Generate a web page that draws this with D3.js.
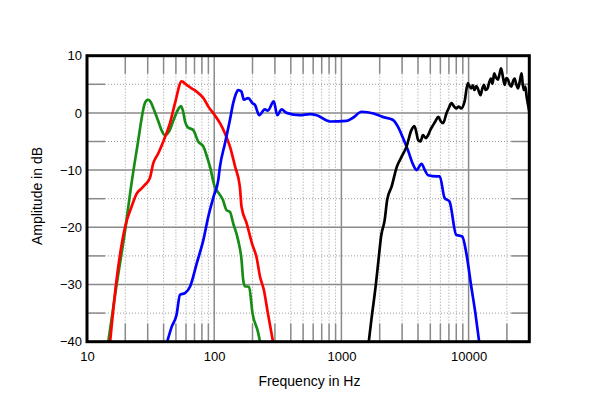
<!DOCTYPE html>
<html><head><meta charset="utf-8">
<script src="https://cdn.jsdelivr.net/npm/d3@7"></script>
<style>body{margin:0;background:#fff}svg{display:block}</style>
</head><body><svg id="c" width="600" height="407"></svg>
<script>
const xTicks = [10, 100, 1000, 10000];
const yTicks = [10, 0, -10, -20, -30, -40];
const xTitle = "Frequency in Hz";
const yTitle = "Amplitude in dB";

const greenF = [14.7,17.1,20.1,22.0,25,28.5,29.4,30.3,31.5,33,36,38.5,41,44,48,52,54.9,57,59,61.9,68.4,74.8,82.2,87.0,92.6,101,104.5,117,125,133,141,154,164,169,174,188,200,222,229];
const greenDB = [-40,-30,-20,-13.5,-5.5,1.7,2.2,2.3,2.0,1.0,-1.2,-3.0,-3.9,-3.3,-1.2,0.6,1.2,0.2,-1.5,-2.5,-3.0,-5.0,-5.9,-7.4,-9.4,-12.9,-13.5,-15.2,-17.0,-17.3,-19.3,-22.2,-25.7,-29.2,-30.3,-30.4,-35,-38.5,-40];

const redF = [15.2,16.9,19.9,22.4,24.6,26.9,28.5,31.2,33.2,36.3,39.8,44.9,49.2,55.5,60.7,66.5,72.9,82.2,89.9,101,111,121.6,133,146,159,164,180,198,216,229,246,264,290];
const redDB = [-40,-30,-20,-16.4,-14.1,-13.2,-12.6,-11.4,-8.8,-7.1,-5.0,-1.8,1.7,5.5,4.9,4.3,3.7,2.6,1.1,-0.4,-1.8,-3.6,-5.9,-9.4,-12.9,-16.4,-19.3,-22.8,-25.4,-28.6,-31.0,-35,-40];

const blueF = [42.7,46.3,50.6,53.8,58.9,64.5,72.9,82.2,89.9,98.6,107.7,111,121.6,133,141,150,154,160,164,171,185,200,209,226,250,264,294,313,338,371,472,566,640,811,1100,1240,1440,1790,2110,2530,2780,3050,3330,3670,3900,4260,4530,4800,5620,5930,6480,7080,7980,8910,9590,10500,11300,12100];
const blueDB = [-40,-37.4,-35.3,-31.8,-31.5,-30.4,-26.3,-22.2,-18.1,-14.7,-11.7,-9.4,-5.3,-1.2,1.7,3.6,4.0,3.9,3.7,2.3,2.6,1.7,1.4,-0.4,0.6,0.4,2.0,-0.4,0.6,0.0,-0.4,-0.2,-0.4,-1.5,-1.4,-0.8,0.2,-0.1,-0.7,-1.2,-2.4,-4.4,-6.5,-9.1,-10.0,-8.9,-10.0,-10.9,-11.1,-11.1,-14.9,-15.5,-21.3,-21.6,-24.5,-30.4,-35,-40];

const blackF = [1641,1720,1870,1970,2050,2190,2290,2480,2730,2970,3250,3550,3750,3900,4000,4180,4380,4600,4800,5050,5270,5500,5780,6050,6300,6690,7000,7330,7650,7980,8350,8750,9300,9860,10200,10500,10800,11100,11500,11800,12100,12400,12800,13200,13600,14100,14500,15000,15400,15900,16400,17000,17500,18000,18600,19200,19800,20400,21000,21700,22300,23000,23700,24500,25300,26100,26600,27200,27900,28600,29500,30000];
const blackDB = [-40,-36.2,-29.8,-25.1,-21.6,-18.7,-15.2,-12.9,-9.4,-7.7,-5.9,-3.0,-2.3,-3.6,-4.7,-5.0,-3.9,-4.4,-3.9,-2.8,-2.1,-1.4,-0.7,-1.5,-1.8,-0.1,0.9,1.7,1.2,0.8,1.1,0.8,2.0,5.2,4.6,4.3,4.8,4.0,4.7,4.3,3.6,3.1,4.2,4.9,4.0,4.3,5.3,6.0,5.1,6.9,6.2,5.8,6.8,7.8,6.3,4.9,6.1,5.8,5.0,4.6,5.5,6.0,5.0,4.3,5.6,6.9,5.1,4.0,4.6,2.8,1.1,0.2];

const seriesNames = ["green","red","blue","black"];
const seriesColors = ["#178c17","#ff0000","#0000ff","#000000"];
const seriesF = [greenF, redF, blueF, blackF];
const seriesDB = [greenDB, redDB, blueDB, blackDB];

const W = 600, H = 407;
const m = {left: 87, top: 55.7, right: 70.7, bottom: 65.3};
const iw = W - m.left - m.right, ih = H - m.top - m.bottom;
const svg = d3.select("#c");
const g = svg.append("g").attr("transform", `translate(${m.left},${m.top})`);
const x = d3.scaleLog().domain([10, 30000]).range([0, iw]);
const y = d3.scaleLinear().domain([-40, 10]).range([ih, 0]);

const minorX = [];
for (let d = 10; d < 30000; d *= 10) for (let k = 2; k <= 9; k++) { const v = d * k; if (v < 30000) minorX.push(v); }
const minorY = [5, -5, -15, -25, -35];
const majorX = [100, 1000, 10000];
const majorY = [0, -10, -20, -30];
const tickLen = 18;
const grey = "#8a8a8a";

const grid = g.append("g");
grid.selectAll(".mxd").data(minorX).enter().append("line")
  .attr("x1", d => x(d)).attr("x2", d => x(d)).attr("y1", 0).attr("y2", ih)
  .attr("stroke", "#9a9a9a").attr("stroke-width", 1).attr("stroke-dasharray", "1,2");
grid.selectAll(".myd").data(minorY).enter().append("line")
  .attr("x1", 0).attr("x2", iw).attr("y1", d => y(d)).attr("y2", d => y(d))
  .attr("stroke", "#9a9a9a").attr("stroke-width", 1).attr("stroke-dasharray", "1,2");
[0, ih].forEach((yy, i) => {
  grid.selectAll(".mxt" + i).data(minorX).enter().append("line")
    .attr("x1", d => x(d)).attr("x2", d => x(d)).attr("y1", yy).attr("y2", i ? yy - tickLen : yy + tickLen)
    .attr("stroke", grey).attr("stroke-width", 1.5);
});
[0, iw].forEach((xx, i) => {
  grid.selectAll(".myt" + i).data(minorY).enter().append("line")
    .attr("y1", d => y(d)).attr("y2", d => y(d)).attr("x1", xx).attr("x2", i ? xx - tickLen : xx + tickLen)
    .attr("stroke", grey).attr("stroke-width", 1.5);
});
grid.selectAll(".Mx").data(majorX).enter().append("line")
  .attr("x1", d => x(d)).attr("x2", d => x(d)).attr("y1", 0).attr("y2", ih)
  .attr("stroke", grey).attr("stroke-width", 1.5);
grid.selectAll(".My").data(majorY).enter().append("line")
  .attr("x1", 0).attr("x2", iw).attr("y1", d => y(d)).attr("y2", d => y(d))
  .attr("stroke", grey).attr("stroke-width", 1.5);

svg.append("defs").append("clipPath").attr("id", "clip").append("rect").attr("width", iw).attr("height", ih);
const line = d3.line().x(d => x(d[0])).y(d => y(d[1])).curve(d3.curveMonotoneX);
const curves = g.append("g").attr("clip-path", "url(#clip)");
seriesNames.forEach((n, i) => {
  const pts = seriesF[i].map((f, j) => [f, seriesDB[i][j]]);
  curves.append("path").datum(pts).attr("d", line).attr("fill", "none")
    .attr("stroke", seriesColors[i]).attr("stroke-width", 2.7).attr("stroke-linejoin", "round");
});

g.append("rect").attr("width", iw).attr("height", ih).attr("fill", "none").attr("stroke", "#000").attr("stroke-width", 3);

const font = "Liberation Sans, Arial, sans-serif";
const xa = g.append("g").attr("transform", `translate(0,${ih})`)
  .call(d3.axisBottom(x).tickValues(xTicks).tickFormat(d3.format("d")).tickSize(0).tickPadding(10));
xa.select(".domain").remove();
xa.selectAll("text").attr("font-family", font).attr("font-size", 13).attr("fill", "#000");
const ya = g.append("g")
  .call(d3.axisLeft(y).tickValues(yTicks).tickFormat(d3.format("d")).tickSize(0).tickPadding(5));
ya.select(".domain").remove();
ya.selectAll("text").attr("font-family", font).attr("font-size", 13).attr("fill", "#000");

svg.append("text").attr("x", 309.5).attr("y", 385.5).attr("text-anchor", "middle")
  .attr("font-family", font).attr("font-size", 14).attr("xml:space", "preserve").text(xTitle);
svg.append("text").attr("transform", `translate(41.5,196) rotate(-90)`).attr("text-anchor", "middle")
  .attr("font-family", font).attr("font-size", 14).text(yTitle);
</script></body></html>
